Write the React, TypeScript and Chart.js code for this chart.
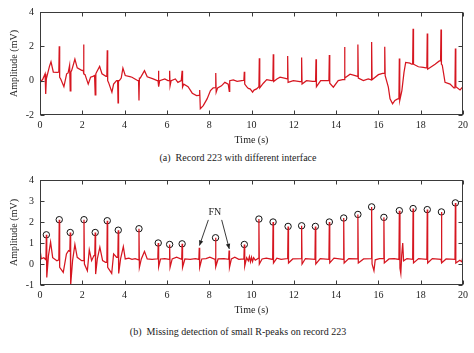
import React, { useEffect, useRef } from "react";
import { Chart, registerables } from "chart.js";

Chart.register(...registerables);

// ---------- Panel (a): record 223 with interference ----------
const topTime = [
  0.0, 0.05, 0.12, 0.24, 0.27, 0.3, 0.45, 0.52, 0.63, 0.82,
  0.89, 0.91, 0.93, 0.98, 1.13, 1.26, 1.33, 1.4, 1.43, 1.46,
  1.5, 1.65, 1.76, 1.97, 2.04, 2.06, 2.08, 2.13, 2.28, 2.39,
  2.5, 2.58, 2.61, 2.64, 2.68, 2.82, 2.93, 3.12, 3.16, 3.18,
  3.2, 3.24, 3.4, 3.48, 3.62, 3.67, 3.69, 3.71, 3.75, 3.84,
  3.92, 4.03, 4.25, 4.35, 4.49, 4.63, 4.66, 4.68, 4.7, 4.74,
  4.94, 5.07, 5.35, 5.54, 5.58, 5.6, 5.62, 5.66, 5.9, 6.05,
  6.11, 6.13, 6.15, 6.2, 6.4, 6.52, 6.68, 6.7, 6.72, 6.74,
  6.8, 7.0, 7.2, 7.4, 7.52, 7.55, 7.58, 7.72, 7.9, 8.06,
  8.19, 8.29, 8.31, 8.33, 8.4, 8.58, 8.74, 8.9, 8.93, 8.95,
  8.97, 9.14, 9.32, 9.54, 9.64, 9.66, 9.68, 9.77, 9.85, 9.93,
  10.0, 10.05, 10.12, 10.24, 10.35, 10.37, 10.39, 10.56, 10.72, 10.95,
  11.01, 11.03, 11.05, 11.2, 11.35, 11.6, 11.69, 11.71, 11.73, 11.98,
  12.29, 12.35, 12.37, 12.39, 12.6, 12.89, 13.03, 13.05, 13.07, 13.27,
  13.55, 13.66, 13.68, 13.7, 13.87, 14.1, 14.31, 14.38, 14.4, 14.42,
  14.66, 14.9, 15.01, 15.03, 15.05, 15.29, 15.52, 15.66, 15.68, 15.7,
  16.0, 16.2, 16.28, 16.3, 16.32, 16.47, 16.55, 16.67, 16.78, 16.91,
  16.97, 16.99, 17.01, 17.11, 17.21, 17.29, 17.49, 17.57, 17.62, 17.64,
  17.66, 17.89, 18.12, 18.25, 18.29, 18.31, 18.33, 18.45, 18.68, 18.88,
  18.94, 18.96, 18.98, 19.02, 19.15, 19.39, 19.57, 19.62, 19.64, 19.66,
  19.86, 20.0,
];
const topAmp = [
  -0.2, 0.0, 0.05, 0.4, -0.77, 0.1, 0.85, 1.1, 0.5, 0.48,
  0.5, 2.0, 0.2, 0.1, -0.35, 0.4, 0.45, 0.9, -0.6, 0.5,
  0.6, 1.25, 0.75, 0.6, 0.6, 2.1, 0.4, 0.35, -0.2, 0.2,
  0.25, 0.3, -0.83, 0.4, 0.5, 0.83, 0.4, 0.25, 0.25, 1.77,
  0.0, -0.1, -0.67, -0.2, 0.0, 0.0, -1.3, 0.0, 0.0, 0.15,
  0.73, 0.3, 0.23, 0.2, 0.1, 0.0, 0.0, -1.15, 0.15, 0.15,
  0.58, 0.23, 0.1, 0.0, 0.0, 0.58, -0.35, 0.0, 0.1, 0.0,
  0.0, 0.58, -0.3, 0.0, 0.1, -0.1, 0.0, 0.0, 0.58, -0.38,
  -0.2, -0.35, -0.73, -0.87, -0.85, -0.55, -1.63, -1.45, -1.06, -0.58,
  -0.42, -0.4, 0.45, -0.67, -0.42, -0.3, -0.1, -0.2, -0.2, -0.62,
  0.0, 0.05, -0.04, 0.0, 0.02, 0.52, -0.2, -0.35, -0.45, -0.48,
  -0.58, -0.67, -0.55, -0.48, -0.35, 1.3, -0.42, -0.15, 0.06, 0.0,
  0.0, 1.54, -0.05, 0.1, 0.2, 0.13, 0.1, 1.44, -0.1, 0.0,
  -0.06, -0.06, 1.35, -0.2, 0.0, -0.04, -0.04, 1.25, -0.35, 0.0,
  0.0, 0.0, 1.5, -0.15, -0.38, 0.0, 0.06, 0.06, 1.96, 0.15,
  0.38, 0.29, 0.25, 2.1, 0.15, 0.0, 0.1, 0.05, 2.25, 0.06,
  0.35, 0.42, 0.42, 1.98, 0.29, -0.38, -1.06, -1.35, -1.15, -1.06,
  -1.06, 1.29, -1.15, -0.58, 0.48, 1.06, 1.02, 0.96, 0.96, 3.02,
  0.96, 0.81, 0.77, 0.75, 0.75, 2.75, 0.67, 0.77, 0.96, 1.15,
  1.15, 2.98, 0.96, 0.9, -0.1, -0.2, -0.42, -0.42, 1.87, -0.35,
  -0.54, -0.35,
];

// ---------- Panel (b): filtered signal with detected R-peaks ----------
const bottomTime = [
  0.0, 0.06, 0.18, 0.28, 0.3, 0.32, 0.4, 0.5, 0.6, 0.8,
  0.89, 0.91, 0.93, 1.1, 1.25, 1.35, 1.41, 1.43, 1.45, 1.54,
  1.65, 1.76, 1.97, 2.06, 2.08, 2.1, 2.24, 2.33, 2.44, 2.55,
  2.59, 2.61, 2.63, 2.71, 2.83, 2.96, 3.1, 3.16, 3.18, 3.2,
  3.39, 3.48, 3.62, 3.68, 3.7, 3.72, 3.81, 3.94, 4.03, 4.2,
  4.35, 4.5, 4.66, 4.68, 4.7, 4.79, 4.94, 5.07, 5.3, 5.57,
  5.59, 5.61, 5.7, 5.9, 6.11, 6.13, 6.15, 6.25, 6.46, 6.7,
  6.72, 6.74, 6.85, 7.1, 7.35, 7.51, 7.53, 7.55, 7.65, 7.85,
  8.03, 8.28, 8.3, 8.32, 8.42, 8.7, 8.92, 8.94, 8.96, 9.05,
  9.21, 9.4, 9.64, 9.66, 9.68, 9.77, 9.85, 9.9, 9.95, 10.0,
  10.05, 10.1, 10.18, 10.33, 10.35, 10.37, 10.5, 10.7, 11.0, 11.02,
  11.04, 11.2, 11.4, 11.71, 11.73, 11.75, 11.95, 12.35, 12.37, 12.39,
  12.55, 13.0, 13.02, 13.04, 13.25, 13.66, 13.68, 13.7, 13.9, 14.34,
  14.36, 14.38, 14.6, 15.01, 15.03, 15.05, 15.3, 15.66, 15.68, 15.7,
  15.79, 15.85, 16.05, 16.24, 16.26, 16.28, 16.5, 16.75, 16.97, 16.99,
  17.02, 17.06, 17.1, 17.15, 17.19, 17.35, 17.62, 17.64, 17.66, 17.9,
  18.29, 18.31, 18.33, 18.55, 18.96, 18.98, 19.0, 19.2, 19.62, 19.64,
  19.66, 19.85, 19.95, 20.0,
];
const bottomAmp = [
  0.7, 0.25, 0.3, 0.2, 1.39, -0.64, 0.4, 1.04, 0.3, 0.15,
  0.2, 2.11, -0.16, -0.4, 0.48, 0.64, 0.6, 1.5, -1.0, 0.16,
  0.93, 0.32, 0.16, 0.16, 2.11, 0.0, -0.32, 0.67, 0.16, 0.4,
  0.4, 1.5, -0.48, 0.24, 0.8, 0.16, 0.08, 0.08, 2.06, -0.16,
  -0.45, 0.48, 0.32, 0.32, 1.61, -0.45, 0.24, 0.83, 0.24, 0.28,
  0.22, 0.26, 0.2, 1.68, -0.16, 0.24, 0.6, 0.24, 0.22, 0.25,
  1.0, -0.13, 0.24, 0.26, 0.22, 0.93, -0.16, 0.24, 0.32, 0.22,
  0.96, -0.16, 0.24, 0.22, 0.26, 0.22, 0.77, -0.16, 0.24, 0.26,
  0.32, 0.22, 1.25, -0.13, 0.24, 0.26, 0.22, 0.64, -0.16, 0.24,
  0.32, 0.22, 0.24, 0.93, -0.1, 0.3, 0.15, 0.35, 0.1, 0.32,
  0.12, 0.3, 0.18, 0.28, 2.14, 0.0, 0.24, 0.28, 0.22, 2.0,
  0.05, 0.28, 0.22, 0.26, 1.79, 0.05, 0.24, 0.26, 1.82, 0.0,
  0.26, 0.22, 1.79, 0.0, 0.26, 0.22, 2.0, 0.05, 0.28, 0.22,
  2.19, 0.05, 0.26, 0.24, 2.36, 0.05, 0.24, 0.26, 2.72, 0.0,
  -0.32, 0.2, 0.26, 0.26, 2.22, 0.05, 0.24, 0.26, 0.22, 2.54,
  -0.2, -0.45, 0.4, 1.0, 0.15, 0.26, 0.22, 2.64, 0.05, 0.26,
  0.22, 2.59, 0.05, 0.26, 0.22, 2.48, 0.05, 0.24, 0.22, 2.91,
  0.05, 0.18, 0.1, 0.4,
];

// Detected R-peaks (circles)
const peakTime = [
  0.3, 0.91, 1.43, 2.08, 2.61, 3.18, 3.7, 4.68, 5.59, 6.13, 6.72, 8.3, 9.66, 10.35, 11.02, 11.73, 12.37, 13.02, 13.68, 14.36,
  15.03, 15.68, 16.26, 16.99, 17.64, 18.31, 18.98, 19.64,
];
const peakAmp = [
  1.39, 2.11, 1.5, 2.11, 1.5, 2.06, 1.61, 1.68, 1.0, 0.93, 0.96, 1.25, 0.93, 2.14, 2.0, 1.79, 1.82, 1.79, 2.0, 2.19,
  2.36, 2.72, 2.22, 2.54, 2.64, 2.59, 2.48, 2.91,
];

// FN annotation (data coordinates)
const fnLabel = "FN";
const fnLabelAt = [8.27, 2.45];
const fnArrowFromT = [7.96, 8.59];
const fnArrowFromV = [2.1, 2.1];
const fnArrowToT = [7.54, 8.95];
const fnArrowToV = [0.88, 0.72];

const xTicks = { min: 0, max: 20, step: 2 };
const topY = { min: -2, max: 4, step: 2 };
const bottomY = { min: -1, max: 4, step: 1 };

const topCaption = "(a)  Record 223 with different interface";
const bottomCaption = "(b)  Missing detection of small R-peaks on record 223";

const SERIF = '"Liberation Serif", "Times New Roman", Times, serif';
const RED = "rgb(214, 22, 32)";
const INK = "#222";

const framePlugin = {
  id: "frame",
  afterDatasetsDraw(chart: any) {
    const { ctx, chartArea: a, scales } = chart;
    const L = Math.round(a.left) + 0.5;
    const R = Math.round(a.right) - 0.5;
    const T = Math.round(a.top) + 0.5;
    const B = Math.round(a.bottom) - 0.5;
    ctx.save();
    ctx.strokeStyle = "#3a3a3a";
    ctx.lineWidth = 1;
    ctx.strokeRect(L, T, R - L, B - T);
    const tl = 4;
    ctx.beginPath();
    for (const t of scales.x.ticks) {
      const px = Math.round(scales.x.getPixelForValue(t.value)) + 0.5;
      ctx.moveTo(px, B);
      ctx.lineTo(px, B - tl);
      ctx.moveTo(px, T);
      ctx.lineTo(px, T + tl);
    }
    for (const t of scales.y.ticks) {
      const py = Math.round(scales.y.getPixelForValue(t.value)) + 0.5;
      ctx.moveTo(L, py);
      ctx.lineTo(L + tl, py);
      ctx.moveTo(R, py);
      ctx.lineTo(R - tl, py);
    }
    ctx.stroke();
    ctx.restore();
  },
};

const fnPlugin = {
  id: "fnNote",
  afterDatasetsDraw(chart: any) {
    const { ctx, scales } = chart;
    const x = scales.x;
    const y = scales.y;
    ctx.save();
    ctx.fillStyle = INK;
    ctx.strokeStyle = INK;
    ctx.lineWidth = 0.9;
    ctx.font = `10px ${SERIF}`;
    ctx.textAlign = "center";
    ctx.textBaseline = "middle";
    ctx.fillText(fnLabel, x.getPixelForValue(fnLabelAt[0]), y.getPixelForValue(fnLabelAt[1]));
    for (let i = 0; i < fnArrowFromT.length; i++) {
      const x0 = x.getPixelForValue(fnArrowFromT[i]);
      const y0 = y.getPixelForValue(fnArrowFromV[i]);
      const x1 = x.getPixelForValue(fnArrowToT[i]);
      const y1 = y.getPixelForValue(fnArrowToV[i]);
      ctx.beginPath();
      ctx.moveTo(x0, y0);
      ctx.lineTo(x1, y1);
      ctx.stroke();
      const ang = Math.atan2(y1 - y0, x1 - x0);
      const hl = 5;
      const hw = 2.2;
      ctx.beginPath();
      ctx.moveTo(x1, y1);
      ctx.lineTo(x1 - hl * Math.cos(ang) + hw * Math.sin(ang), y1 - hl * Math.sin(ang) - hw * Math.cos(ang));
      ctx.lineTo(x1 - hl * Math.cos(ang) - hw * Math.sin(ang), y1 - hl * Math.sin(ang) + hw * Math.cos(ang));
      ctx.closePath();
      ctx.fill();
    }
    ctx.restore();
  },
};

function makeOptions(yr: { min: number; max: number; step: number }, padTop: number, xAxisH: number) {
  const font = { family: SERIF, size: 10 };
  return {
    responsive: false,
    animation: false as const,
    devicePixelRatio: 1,
    events: [],
    layout: { padding: { left: 0, right: 11, top: padTop, bottom: 0 } },
    plugins: { legend: { display: false }, tooltip: { enabled: false } },
    scales: {
      x: {
        type: "linear" as const,
        min: xTicks.min,
        max: xTicks.max,
        ticks: { stepSize: xTicks.step, font, color: INK, padding: 4, maxRotation: 0 },
        grid: { display: false, drawTicks: false },
        border: { display: false },
        title: { display: true, text: "Time (s)", font, color: INK, padding: { top: 0, bottom: 4 } },
        afterFit: (s: any) => {
          s.height = xAxisH;
        },
      },
      y: {
        type: "linear" as const,
        min: yr.min,
        max: yr.max,
        ticks: { stepSize: yr.step, font, color: INK, padding: 6 },
        grid: { display: false, drawTicks: false },
        border: { display: false },
        title: { display: true, text: "Amplitude (mV)", font, color: INK, padding: { top: 8, bottom: 0 } },
        afterFit: (s: any) => {
          s.width = 40;
        },
      },
    },
  };
}

function Panel(props: { top: number; height: number; padTop: number; which: "a" | "b" }) {
  const ref = useRef<HTMLCanvasElement | null>(null);
  useEffect(() => {
    if (!ref.current) return;
    const datasets: any[] = [];
    const lineStyle = { borderColor: RED, borderWidth: 1.25, pointRadius: 0, tension: 0, fill: false };
    if (props.which === "a") {
      datasets.push({ data: topTime.map((t, i) => ({ x: t, y: topAmp[i] })), ...lineStyle });
    } else {
      datasets.push({ data: bottomTime.map((t, i) => ({ x: t, y: bottomAmp[i] })), ...lineStyle });
      datasets.push({
        data: peakTime.map((t, i) => ({ x: t, y: peakAmp[i] })),
        showLine: false,
        pointRadius: 3.2,
        pointBorderWidth: 1,
        pointBorderColor: "#111",
        pointBackgroundColor: "rgba(0,0,0,0)",
        borderColor: "#111",
      });
    }
    const yr = props.which === "a" ? topY : bottomY;
    const chart = new Chart(ref.current, {
      type: "line",
      data: { datasets },
      options: makeOptions(yr, props.padTop, 35) as any,
      plugins: props.which === "a" ? [framePlugin] : [framePlugin, fnPlugin],
    });
    return () => chart.destroy();
  }, []);
  return (
    <canvas
      ref={ref}
      width={474}
      height={props.height}
      style={{ position: "absolute", left: 0, top: props.top, width: 474, height: props.height }}
    />
  );
}

const captionStyle = (top: number): React.CSSProperties => ({
  position: "absolute",
  left: 0,
  top,
  width: 476,
  textAlign: "center",
  fontFamily: SERIF,
  fontSize: 10,
  lineHeight: "12px",
  color: INK,
  whiteSpace: "pre",
});

export default function App() {
  return (
    <div style={{ position: "absolute", left: 0, top: 0, width: 474, height: 353, background: "#fff", overflow: "hidden" }}>
      <Panel which="a" top={0} height={150} padTop={11} />
      <div style={captionStyle(152)}>{topCaption}</div>
      <Panel which="b" top={165} height={155} padTop={15} />
      <div style={captionStyle(326)}>{bottomCaption}</div>
    </div>
  );
}
